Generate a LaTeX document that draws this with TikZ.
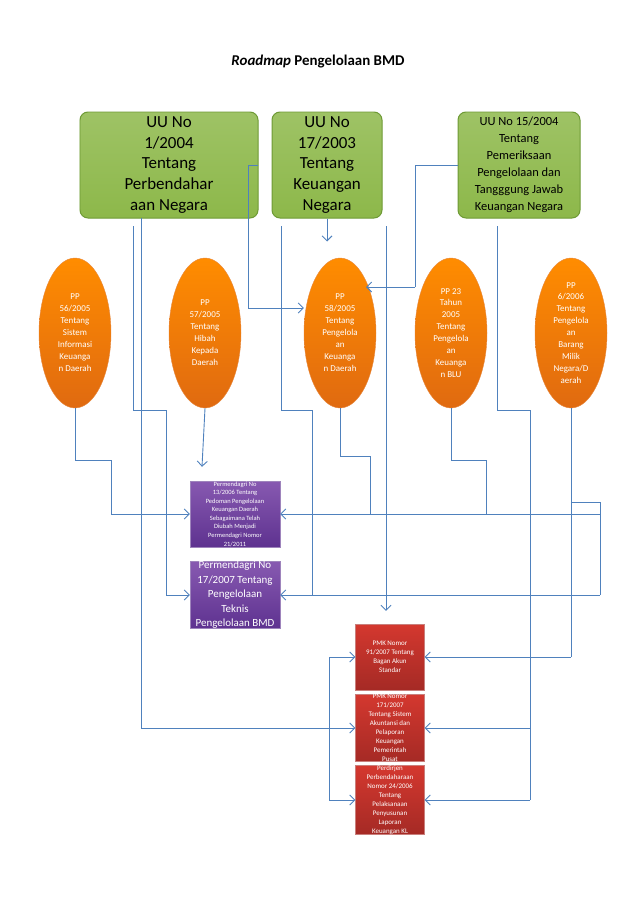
\documentclass[tikz,border=0pt]{standalone}
\usepackage{fontspec}
\setmainfont{Carlito}
\usetikzlibrary{shapes.geometric,arrows.meta,calc}
\definecolor{grn}{HTML}{8DB84A}
\definecolor{grnd}{HTML}{6E9A35}
\definecolor{org}{HTML}{F28A1E}
\definecolor{orgd}{HTML}{E06A10}
\definecolor{pur}{HTML}{7A47A8}
\definecolor{purd}{HTML}{5E3290}
\definecolor{rd}{HTML}{D4382F}
\definecolor{rdd}{HTML}{A52A25}
\definecolor{ln}{HTML}{4F81BD}
\begin{document}
\begin{tikzpicture}[x=1bp,y=-1bp,
 gbox/.style={draw=grnd,line width=1pt,rounded corners=8bp,top color=grn!85,bottom color=grn,align=center,inner sep=0pt,font=\color{black}},
 oel/.style={ellipse,draw=orgd!80,top color=orange!90!yellow,bottom color=orgd,minimum width=72bp,minimum height=150bp,align=center,inner sep=0pt,font=\fontsize{9}{12}\selectfont\color{white}},
 pbox/.style={draw=purd!60,top color=pur!90,bottom color=purd,minimum width=90bp,minimum height=66bp,align=center,inner sep=0pt,text=white},
 rbox/.style={draw=rdd!60,top color=rd,bottom color=rdd,minimum width=69bp,minimum height=66bp,align=center,inner sep=0pt,text=white,font=\fontsize{7}{9}\selectfont},
 ar/.style={draw=ln,line width=0.9pt,-{Straight Barb[length=5bp,width=10bp]}},
 ln/.style={draw=ln,line width=0.9pt}]
\useasboundingbox (0,0) rectangle (638,922);
\node (t) at (318,62) {\fontsize{15}{18}\selectfont\bfseries\textit{Roadmap} Pengelolaan BMD};
\node[gbox,minimum width=178bp,minimum height=106bp,font=\fontsize{17}{21}\selectfont] (g1) at (169,165) {UU No\\1/2004\\Tentang\\Perbendahar\\aan Negara};
\node[gbox,minimum width=110bp,minimum height=106bp,font=\fontsize{17}{21}\selectfont] (g2) at (327,165) {UU No\\17/2003\\Tentang\\Keuangan\\Negara};
\node[gbox,minimum width=122bp,minimum height=106bp,font=\fontsize{12.5}{17}\selectfont] (g3) at (519,165) {UU No 15/2004\\Tentang\\Pemeriksaan\\Pengelolaan dan\\Tangggung Jawab\\Keuangan Negara};
\node[oel] (e1) at (75,333) {PP\\56/2005\\Tentang\\Sistem\\Informasi\\Keuanga\\n Daerah};
\node[oel] (e2) at (205,333) {PP\\57/2005\\Tentang\\Hibah\\Kepada\\Daerah};
\node[oel] (e3) at (340,333) {PP\\58/2005\\Tentang\\Pengelola\\an\\Keuanga\\n Daerah};
\node[oel] (e4) at (451,333) {PP 23\\Tahun\\2005\\Tentang\\Pengelola\\an\\Keuanga\\n BLU};
\node[oel] (e5) at (571,333) {PP\\6/2006\\Tentang\\Pengelola\\an\\Barang\\Milik\\Negara/D\\aerah};
\node[pbox,font=\fontsize{6.5}{8.6}\selectfont] (p1) at (235,514) {Permendagri No\\13/2006 Tentang\\Pedoman Pengelolaan\\Keuangan Daerah\\Sebagaimana Telah\\Diubah Menjadi\\Permendagri Nomor\\21/2011};
\node[pbox,font=\fontsize{11}{14.5}\selectfont] (p2) at (235,595) {Permendagri No\\17/2007 Tentang\\Pengelolaan\\Teknis\\Pengelolaan BMD};
\node[rbox] (r1) at (390,657) {PMK  Nomor\\91/2007 Tentang\\Bagan Akun\\Standar};
\node[rbox] (r2) at (390,728) {PMK  Nomor\\171/2007\\Tentang Sistem\\Akuntansi dan\\Pelaporan\\Keuangan\\Pemerintah\\Pusat};
\node[rbox] (r3) at (390,800) {Perdirjen\\Perbendaharaan\\Nomor 24/2006\\Tentang\\Pelaksanaan\\Penyusunan\\Laporan\\Keuangan KL};
% coordinates
\coordinate (a1) at (133,226); \coordinate (a2) at (133,410); \coordinate (a3) at (166,410); \coordinate (a4) at (166,595);
\coordinate (b1) at (141,218); \coordinate (b2) at (141,728);
\coordinate (c1) at (258,165); \coordinate (c2) at (248,165); \coordinate (c3) at (248,308);
\coordinate (d1) at (281,226); \coordinate (d2) at (281,410); \coordinate (d3) at (312,410); \coordinate (d4) at (312,595);
\coordinate (f1) at (386,226);
\coordinate (h1) at (458,165); \coordinate (h2) at (415,165); \coordinate (h3) at (415,287);
\coordinate (k1) at (497,226); \coordinate (k2) at (497,410); \coordinate (k3) at (530,410); \coordinate (k4) at (530,800); \coordinate (k5) at (530,728);
\coordinate (m1) at (75,460); \coordinate (m2) at (111,460); \coordinate (m3) at (111,514);
\coordinate (n1) at (340,456); \coordinate (n2) at (370,456); \coordinate (n3) at (370,514);
\coordinate (o1) at (451,460); \coordinate (o2) at (486,460); \coordinate (o3) at (486,514);
\coordinate (q1) at (571,502); \coordinate (q2) at (600,502); \coordinate (q3) at (600,514); \coordinate (q4) at (600,595); \coordinate (q5) at (571,657);
\coordinate (s1) at (329,728); \coordinate (s2) at (329,657); \coordinate (s3) at (329,800);
% connectors
\draw[ln] (a1) -- (a2) -- (a3) -- (a4); \draw[ar] (a4) -- (p2.west);
\draw[ar] (b1) -- (b2) -- (r2.west);
\draw[ln] (c1) -- (c2) -- (c3); \draw[ar] (c3) -- (e3.west |- c3);
\draw[ar] (g2.south) -- ++(0,23);
\draw[ln] (d1) -- (d2) -- (d3) -- (d4);
\draw[ar] (f1) -- ($(r1.north)+(-4,-13)$);
\draw[ln] (h1) -- (h2) -- (h3); \draw[ar] (h3) -- (366,287);
\draw[ln] (k1) -- (k2) -- (k3) -- (k4); \draw[ar] (k4) -- (r3.east); \draw[ar] (k5) -- (r2.east);
\draw[ln] (e1.south) -- (m1) -- (m2) -- (m3); \draw[ar] (m3) -- (p1.west);
\draw[ar] (e2.south) -- ($(p1.north)+(-33,-14)$);
\draw[ln] (e3.south) -- (n1) -- (n2) -- (n3);
\draw[ln] (e4.south) -- (o1) -- (o2) -- (o3);
\draw[ln] (e5.south) -- (q5); \draw[ar] (q5) -- (r1.east);
\draw[ln] (q1) -- (q2) -- (q4); \draw[ar] (q3) -- (p1.east); \draw[ar] (q4) -- (p2.east);
\draw[ln] (s2) -- (s3); \draw[ar] (s2) -- (r1.west); \draw[ar] (s3) -- (r3.west);
\end{tikzpicture}
\end{document}
